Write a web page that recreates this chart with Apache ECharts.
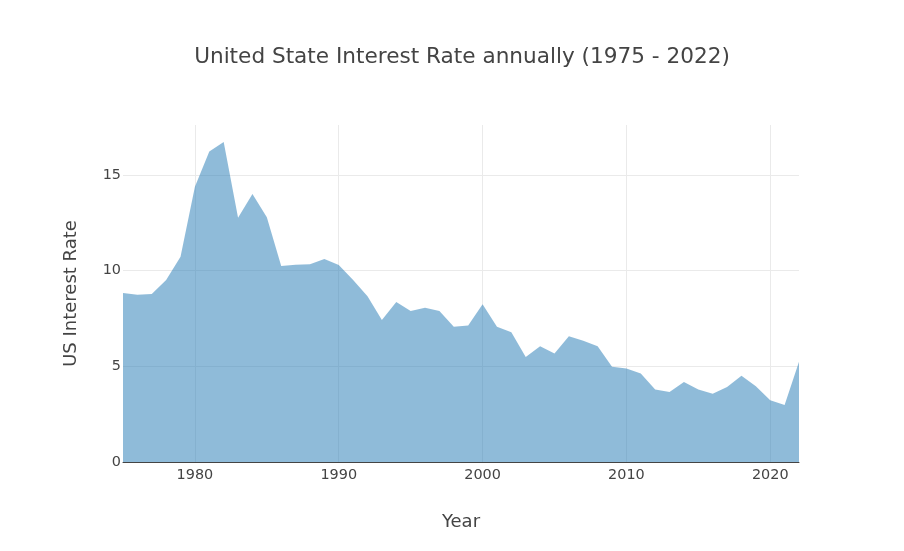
<!DOCTYPE html>
<html>
<head>
<meta charset="utf-8">
<script src="https://cdn.jsdelivr.net/npm/echarts@6/dist/echarts.min.js"></script>
<style>html,body{margin:0;padding:0;background:#fff}#c{width:904px;height:551px}</style>
</head>
<body>
<div id="c"></div>
<script>
const years = [1975,1976,1977,1978,1979,1980,1981,1982,1983,1984,1985,1986,1987,1988,1989,1990,1991,1992,1993,1994,1995,1996,1997,1998,1999,2000,2001,2002,2003,2004,2005,2006,2007,2008,2009,2010,2011,2012,2013,2014,2015,2016,2017,2018,2019,2020,2021,2022];
const rates = [8.83,8.73,8.78,9.50,10.72,14.38,16.21,16.71,12.76,13.99,12.78,10.23,10.30,10.33,10.60,10.29,9.50,8.66,7.41,8.36,7.88,8.05,7.88,7.06,7.13,8.24,7.06,6.78,5.49,6.05,5.67,6.57,6.33,6.05,4.97,4.88,4.62,3.78,3.66,4.18,3.78,3.57,3.92,4.50,3.96,3.23,2.98,5.23];
const xTicks = [1980,1990,2000,2010,2020];
const yTicks = [0,5,10,15];
const titleText = 'United State Interest Rate annually (1975 - 2022)';
const xName = 'Year';
const yName = 'US Interest Rate';

const FONT = '"DejaVu Sans", Verdana, sans-serif';
const chart = echarts.init(document.getElementById('c'), null, {renderer: 'canvas'});
chart.setOption({
  animation: false,
  backgroundColor: '#fff',
  title: {
    text: titleText,
    left: 457, top: 41, textAlign: 'center',
    textStyle: {fontFamily: FONT, fontSize: 21.6, fontWeight: 'normal', color: '#444'}
  },
  grid: {left: 123, right: 105, top: 125, bottom: 89, containLabel: false},
  xAxis: {
    type: 'value', min: 1975, max: 2022,
    name: xName, nameLocation: 'middle', nameGap: 51,
    nameTextStyle: {fontFamily: FONT, fontSize: 18, color: '#444'},
    axisLine: {show: true, onZero: false, lineStyle: {color: '#444', width: 1}},
    axisTick: {show: false, customValues: xTicks},
    axisLabel: {customValues: xTicks, margin: 6, fontFamily: FONT, fontSize: 14.4, color: '#444',
      formatter: v => String(v)},
    splitLine: {show: true, lineStyle: {color: '#eaeaea', width: 1}}
  },
  yAxis: {
    type: 'value', min: 0, max: 17.6,
    name: yName, nameLocation: 'middle', nameGap: 43, nameRotate: 90,
    nameTextStyle: {fontFamily: FONT, fontSize: 18, color: '#444'},
    axisLine: {show: false},
    axisTick: {show: false, customValues: yTicks},
    axisLabel: {customValues: yTicks, margin: 2, fontFamily: FONT, fontSize: 14.4, color: '#444',
      formatter: v => String(v)},
    splitLine: {show: true, lineStyle: {color: '#eaeaea', width: 1}}
  },
  series: [{
    type: 'line',
    data: years.map((y, i) => [y, rates[i]]),
    symbol: 'none',
    lineStyle: {width: 0},
    areaStyle: {color: 'rgba(31,119,180,0.5)', opacity: 1},
    z: 2
  }]
});
</script>
</body>
</html>
